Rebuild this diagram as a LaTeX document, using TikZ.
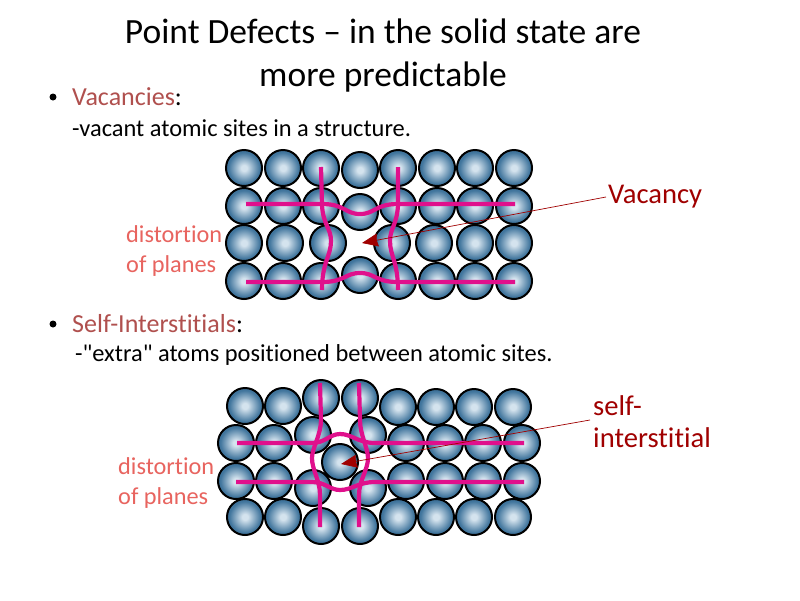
\documentclass[tikz,border=0pt]{standalone}
\usepackage{fontspec}
\newfontfamily\carl{Carlito}[RawFeature=-liga]
\usetikzlibrary{arrows.meta}
\definecolor{bluedark}{HTML}{3F749C}
\definecolor{bluelight}{HTML}{D4E3EE}
\definecolor{plane}{HTML}{E0108C}
\definecolor{darkred}{HTML}{A00000}
\definecolor{softred}{HTML}{E8645F}
\definecolor{mutedred}{HTML}{B0504E}
\pgfdeclareradialshading{ballshade}{\pgfpoint{0bp}{0bp}}{color(0bp)=(bluelight);color(4bp)=(bluelight);color(22bp)=(bluedark);color(50bp)=(bluedark)}
\tikzset{
  x=1pt,y=-1pt,
  ball/.style={circle,draw=black,line width=2pt,shading=ballshade,minimum size=36pt,inner sep=0pt,outer sep=0pt},
  planeline/.style={draw=plane,line width=4.2pt},
  pointer/.style={draw=darkred,line width=0.7pt,-{Stealth[length=16pt,width=13pt,inset=1pt,fill=darkred]}},
  titletext/.style={font=\carl\fontsize{35.5}{43.5}\selectfont,align=center,text=black,inner sep=0pt},
  bodytext/.style={font=\carl\fontsize{26}{30}\selectfont,anchor=base west,inner sep=0pt},
  desctext/.style={font=\carl\fontsize{24.4}{30}\selectfont,anchor=base west,inner sep=0pt},
  bulletmark/.style={circle,fill=black,inner sep=0pt,minimum size=7pt},
  defectlabel/.style={font=\carl\fontsize{28.6}{32}\selectfont,text=darkred,anchor=base west,inner sep=0pt,align=left},
  distortion/.style={font=\carl\fontsize{24.3}{29.5}\selectfont,text=softred,anchor=base west,inner sep=0pt,align=left},
}
\begin{document}
\begin{tikzpicture}
\useasboundingbox (0,0) rectangle (800,600);
\fill[white] (0,0) rectangle (800,600);
\node[titletext] (title) at (383,55.5) {Point Defects – in the solid state are\\more predictable};
% Vacancy lattice
\foreach \x/\y in {244/168,283/168,321/168,360/170,398/168,437/168,475/168,514/168,
  244/206,283/206,321/206,360/212,398/206,437/206,475/206,514/206,
  244/243,285/243,328/243,392/243,434/243,475/243,514/243,
  244/281,283/281,321/281,360/275,398/281,437/281,475/281,514/281}
  \node[ball] at (\x,\y) {};
\draw[planeline] (246,204) -- (322,204) .. controls (345,204) and (345,214) .. (360,214) .. controls (375,214) and (375,204) .. (398,204) -- (515,204);
\draw[planeline] (246,282) -- (322,282) .. controls (345,282) and (345,273) .. (360,273) .. controls (375,273) and (375,282) .. (398,282) -- (515,282);
\draw[planeline] (321,167) -- (322,205) .. controls (323,225) and (331,228) .. (331,241) .. controls (331,256) and (322,262) .. (322,290);
\draw[planeline] (398,167) -- (398,205) .. controls (397,225) and (390,228) .. (390,241) .. controls (390,256) and (398,262) .. (398,290);
% Interstitial lattice
\foreach \x/\y in {245/406,283/406,321/398,360/398,398/407,436/407,474/407,513/407,
  236/443,274/443,313/435,368/435,406/443,445/443,483/443,522/443,
  340/462,
  236/481,274/481,313/488,368/488,406/481,445/481,483/481,522/481,
  245/517,283/517,321/526,360/526,398/517,436/517,474/517,513/517}
  \node[ball] at (\x,\y) {};
\draw[planeline] (237,443) -- (312,443) .. controls (325,443) and (330,434) .. (340,434) .. controls (352,434) and (358,443) .. (375,443) -- (524,443);
\draw[planeline] (236,482) -- (312,482) .. controls (325,482) and (330,490) .. (340,490) .. controls (352,490) and (358,482) .. (375,482) -- (524,482);
\draw[planeline] (320,383) -- (321,420) .. controls (321,435) and (312,448) .. (312,458) .. controls (312,470) and (320,480) .. (320,495) -- (320,527);
\draw[planeline] (359,383) -- (360,420) .. controls (360,435) and (368,448) .. (368,458) .. controls (368,470) and (359,480) .. (359,495) -- (359,527);
% Texts
\node[bulletmark] (b1) at (53,97) {};
\node[bodytext] (vac) at (72,105) {\textcolor{mutedred}{Vacancies}:};
\node[desctext] (vacd) at (72,136) {-vacant atomic sites in a structure.};
\node[bulletmark] (b2) at (53,324) {};
\node[bodytext] (si) at (72,332) {\textcolor{mutedred}{Self-Interstitials}:};
\node[desctext] (sid) at (75,361) {-"extra" atoms positioned between atomic sites.};
\node[distortion] (d1) at (126,272) {distortion\\of planes};
\node[distortion] (d2) at (118,504) {distortion\\of planes};
\node[defectlabel] (vlabel) at (608,203) {Vacancy};
\node[defectlabel] (slabel) at (593,447) {self-\\interstitial};
\coordinate (vtip) at (362,243);
\coordinate (stip) at (341,464);
\coordinate (vstart) at (606,197);
\coordinate (sstart) at (590,420);
\draw[pointer] (vstart) -- (vtip);
\draw[pointer] (sstart) -- (stip);
\end{tikzpicture}
\end{document}
